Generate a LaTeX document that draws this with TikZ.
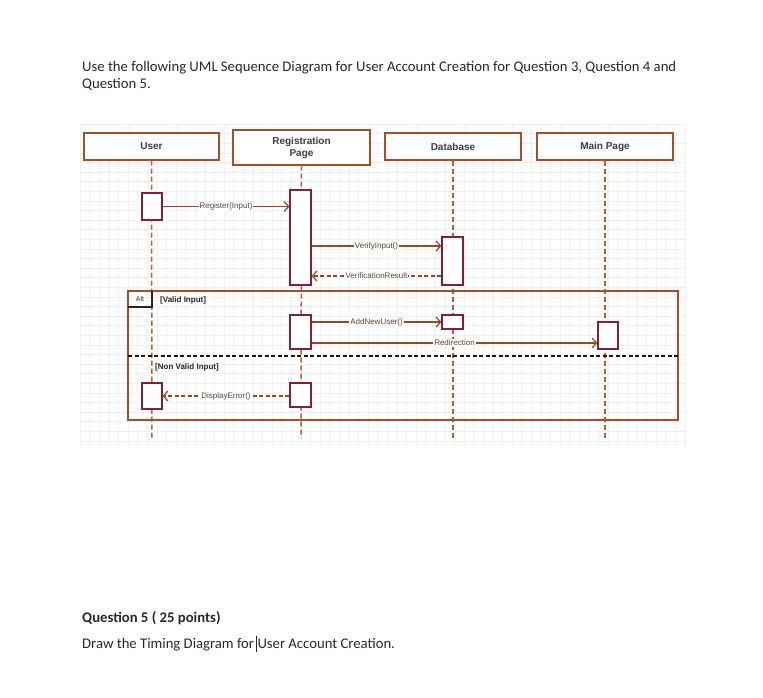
\documentclass[tikz,border=0pt]{standalone}
\usepackage{fontspec}
\setmainfont{Carlito}
\newfontfamily\arial{Liberation Sans}
\usetikzlibrary{arrows.meta,calc}
\definecolor{hdr}{RGB}{165,78,40}
\definecolor{act}{RGB}{135,30,55}
\definecolor{msgc}{RGB}{150,72,32}
\definecolor{life}{RGB}{178,98,48}
\definecolor{lbl}{RGB}{95,70,55}
\definecolor{txt}{RGB}{40,40,40}
\tikzset{
  header/.style={draw=hdr, line width=1.3pt, fill=white, inner sep=1pt, align=center,
    font=\arial\bfseries\fontsize{10}{12}\selectfont, text=txt!90},
  actbox/.style={draw=act, line width=1.2pt, fill=white, inner sep=0pt},
  lifeline/.style={draw=life, line width=1.5pt, dash pattern=on 5pt off 3pt},
  msg/.style={draw=msgc, line width=1.2pt, -{Straight Barb[length=4.5pt,width=10pt,line width=1.2pt]}},
  reply/.style={msg, dash pattern=on 4pt off 2.5pt},
  msglabel/.style={fill=white, inner sep=1pt, text=lbl, font=\arial\fontsize{8}{9.5}\selectfont},
  guard/.style={font=\arial\bfseries\fontsize{8}{10}\selectfont, text=black!85, inner sep=0pt},
  doctext/.style={anchor=base west, inner sep=0pt, text=txt, font=\fontsize{14.7}{17}\selectfont},
  gridline/.style={black!6, line width=0.5pt},
}
\begin{document}
\begin{tikzpicture}[x=1pt,y=-1pt]
\useasboundingbox (0,0) rectangle (763,697);
\fill[white] (0,0) rectangle (763,697);

% document text
\node[doctext] (l1) at (82,71) {Use the following UML Sequence Diagram for User Account Creation for Question 3, Question 4 and};
\node[doctext] (l2) at (82,88) {Question 5.};

% grid background
\foreach \gx in {0,...,63} \draw[gridline] (80+\gx*9.6,124) -- (80+\gx*9.6,446);
\foreach \gy in {0,...,33} \draw[gridline] (80,124+\gy*9.6) -- (686,124+\gy*9.6);

% headers
\node[header, minimum width=135pt, minimum height=27pt] (user) at (151.5,146.5) {User};
\node[header, minimum width=137pt, minimum height=35pt] (reg) at (301.5,147.5) {Registration\\Page};
\node[header, minimum width=136pt, minimum height=27pt] (db) at (453,146.5) {Database};
\node[header, minimum width=136pt, minimum height=27pt] (mp) at (605,146.5) {Main Page};

% lifeline ends
\coordinate (userEnd) at (152,438);
\coordinate (regEnd) at (301,438);
\coordinate (dbEnd) at (453,438);
\coordinate (mpEnd) at (605,438);
\draw[lifeline] (user.south) -- (userEnd);
\draw[lifeline] (reg.south) -- (regEnd);
\draw[lifeline] (db.south) -- (dbEnd);
\draw[lifeline] (mp.south) -- (mpEnd);

% alt frame
\draw[draw=hdr, line width=1.5pt] (128,291) rectangle (678,420);
\draw[black!85, line width=1.2pt] (128,307) -- (152,307) -- (152,291);
\node[font=\arial\fontsize{7}{8}\selectfont, text=black!80, inner sep=0pt] (alt) at (140,299) {Alt};
\node[guard, anchor=west] (g1) at (160,300) {[Valid Input]};
\draw[black!90, line width=1.3pt, dash pattern=on 4pt off 2.5pt] (128,356) -- (678,356);
\node[guard, anchor=west] (g2) at (155,367) {[Non Valid Input]};

% activations
\node[actbox, minimum width=20pt, minimum height=27pt] (ua1) at (152,206.5) {};
\node[actbox, minimum width=21pt, minimum height=95pt] (ra1) at (300.5,237.5) {};
\node[actbox, minimum width=21pt, minimum height=48pt] (da1) at (452.5,261) {};
\node[actbox, minimum width=21pt, minimum height=34pt] (ra2) at (300.5,332) {};
\node[actbox, minimum width=21pt, minimum height=14pt] (da2) at (452.5,322) {};
\node[actbox, minimum width=20pt, minimum height=27pt] (ma1) at (608,335.5) {};
\node[actbox, minimum width=20pt, minimum height=26pt] (ua2) at (152,396) {};
\node[actbox, minimum width=21pt, minimum height=24pt] (ra3) at (300.5,395) {};

% message rows
\coordinate (yVer) at (0,246);
\coordinate (yRes) at (0,276);
\coordinate (yRed) at (0,343);

\draw[msg] (ua1.east) -- (ua1.east -| ra1.west) node[msglabel, pos=0.5] {Register(Input)};
\draw[msg] (ra1.east |- yVer) -- (da1.west |- yVer) node[msglabel, pos=0.5] {VerifyInput()};
\draw[reply] (da1.west |- yRes) -- (ra1.east |- yRes) node[msglabel, pos=0.5] {VerificationResult};
\draw[msg] (ra2.east |- da2.west) -- (da2.west) node[msglabel, pos=0.5] {AddNewUser()};
\draw[msg] (ra2.east |- yRed) -- (ma1.west |- yRed) node[msglabel, pos=0.5] {Redirection};
\draw[reply] (ra3.west |- ua2.east) -- (ua2.east) node[msglabel, pos=0.5] {DisplayError()};

% bottom text
\node[doctext, font=\bfseries\fontsize{14.7}{17}\selectfont] (q5) at (82,622) {Question 5 ( 25 points)};
\node[doctext] (q5b) at (82,648) {Draw the Timing Diagram for\makebox[3.4pt]{\rule[-4pt]{0.6pt}{16pt}}User Account Creation.};
\end{tikzpicture}
\end{document}
